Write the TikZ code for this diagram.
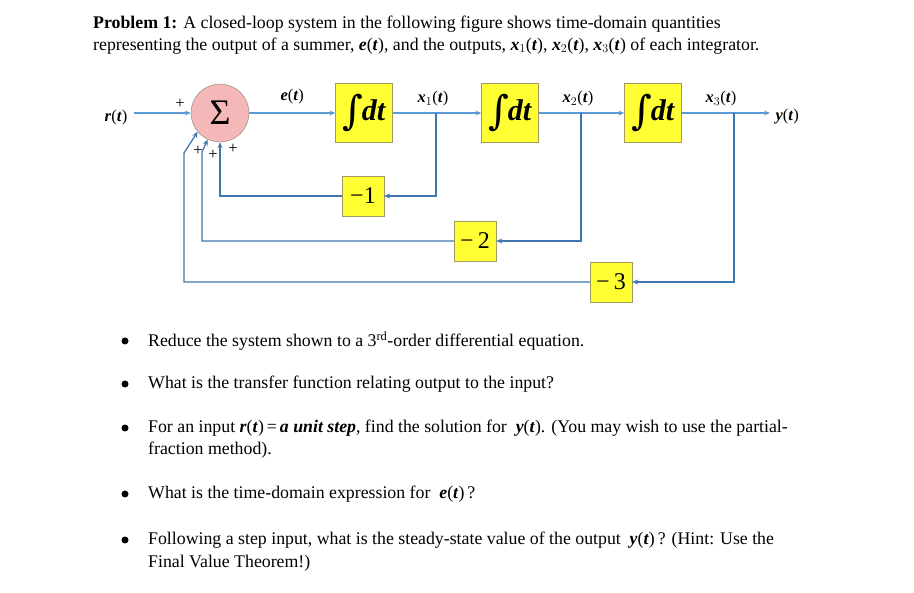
\documentclass[tikz,border=0pt]{standalone}
\usepackage{fontspec}
\setmainfont{Liberation Serif}
\newfontfamily\djs{DejaVu Serif}
\usetikzlibrary{arrows.meta}
\definecolor{ln}{HTML}{5B9BD5}
\definecolor{fb}{HTML}{3F78AE}
\definecolor{yel}{HTML}{FFFF33}
\definecolor{ybd}{HTML}{A09A60}
\definecolor{pk}{HTML}{F5B8B8}
\newcommand{\bi}[1]{\textbf{\textit{#1}}}
\newcommand{\intdt}{\raisebox{-4pt}{\fontsize{40}{40}\djs ∫}\kern-1pt{\fontsize{30}{30}\selectfont\bi{dt}}}
\begin{document}
\begin{tikzpicture}[x=1pt,y=-1pt,
  sig/.style={line width=1.3pt,draw=ln,-{Stealth[length=6pt,width=5pt]}},
  fbk/.style={line width=1.3pt,draw=fb,-{Stealth[length=6pt,width=5pt]}},
  intbox/.style={draw=ybd,fill=yel,minimum width=57pt,minimum height=59pt,inner sep=0pt},
  gbox/.style={draw=ybd,fill=yel,minimum width=42pt,minimum height=40pt,inner sep=0pt,font=\fontsize{24}{24}\selectfont},
  lab/.style={font=\fontsize{16.5}{16.5}\selectfont},
  txt/.style={anchor=west,font=\fontsize{17.8}{20}\selectfont,inner sep=0pt},
  bul/.style={circle,fill=black,inner sep=0pt,minimum size=7pt}]
\useasboundingbox (0,0) rectangle (914,593);
\node[txt] (t1) at (93,24) {\textbf{Problem 1:} A closed-loop system in the following figure shows time-domain quantities};
\node[txt] (t2) at (93,46) {representing the output of a summer, \bi{e}(\bi{t}), and the outputs, \bi{x}$_1$(\bi{t}), \bi{x}$_2$(\bi{t}), \bi{x}$_3$(\bi{t}) of each integrator.};
% diagram
\node[lab] (r) at (116,118) {\bi{r}(\bi{t})};
\node[circle,draw=gray,fill=pk,minimum size=58pt,inner sep=0pt,font=\fontsize{36}{36}\selectfont] (s) at (220,113) {Σ};
\node[intbox] (i1) at (364,113) {\intdt};
\node[intbox] (i2) at (510,113) {\intdt};
\node[intbox] (i3) at (653,113) {\intdt};
\node[gbox] (g1) at (363,196) {−1};
\node[gbox] (g2) at (475,241) {−\,2};
\node[gbox] (g3) at (611,282) {−\,3};
\coordinate (b1) at (436,113);
\coordinate (b2) at (581,113);
\coordinate (b3) at (734,113);
\coordinate (yo) at (770,113);
\coordinate (r0) at (134,113);
\node[lab,anchor=west] (y) at (772,117) {\bi{y}(\bi{t})};
\draw[sig] (r0) -- (s.west);
\draw[sig] (s.east) -- node[lab,above=5pt] (el) {\bi{e}(\bi{t})} (i1.west);
\draw[sig] (i1.east) -- (i2.west);
\draw[sig] (i2.east) -- (i3.west);
\draw[sig] (i3.east) -- (yo);
\node[lab] (x1) at (433,99) {\bi{x}$_1$(\bi{t})};
\node[lab] (x2) at (578,99) {\bi{x}$_2$(\bi{t})};
\node[lab] (x3) at (721,99) {\bi{x}$_3$(\bi{t})};
\draw[fbk] (b1) |- (g1.east);
\draw[fbk] (b2) |- (g2.east);
\draw[fbk] (b3) |- (g3.east);
\draw[fbk] (g1.west) -| (s.south);
\draw[fbk] (g2.west) -| (202,152) -- (s.-115);
\draw[fbk] (g3.west) -| (184,153) -- (s.-140);
\node[lab] (p0) at (180,104) {+};
\node[lab] (p1) at (198,151) {+};
\node[lab] (p2) at (213,155) {+};
\node[lab] (p3) at (233,149) {+};
% bullets
\node[bul] (u1) at (125,341) {}; \node[txt] (q1) at (148,341) {Reduce the system shown to a 3\textsuperscript{rd}-order differential equation.};
\node[bul] (u2) at (125,384) {}; \node[txt] (q2) at (148,384) {What is the transfer function relating output to the input?};
\node[bul] (u3) at (125,428) {}; \node[txt] (q3) at (148,428) {For an input \bi{r}(\bi{t})\,=\,\bi{a unit step}, find the solution for \ \bi{y}(\bi{t}). (You may wish to use the partial-};
\node[txt] (q3b) at (148,450) {fraction method).};
\node[bul] (u4) at (125,494) {}; \node[txt] (q4) at (148,494) {What is the time-domain expression for \ \bi{e}(\bi{t})\,?};
\node[bul] (u5) at (125,540) {}; \node[txt] (q5) at (148,540) {Following a step input, what is the steady-state value of the output \ \bi{y}(\bi{t})\,? (Hint: Use the};
\node[txt] (q5b) at (148,563) {Final Value Theorem!)};
\end{tikzpicture}
\end{document}
